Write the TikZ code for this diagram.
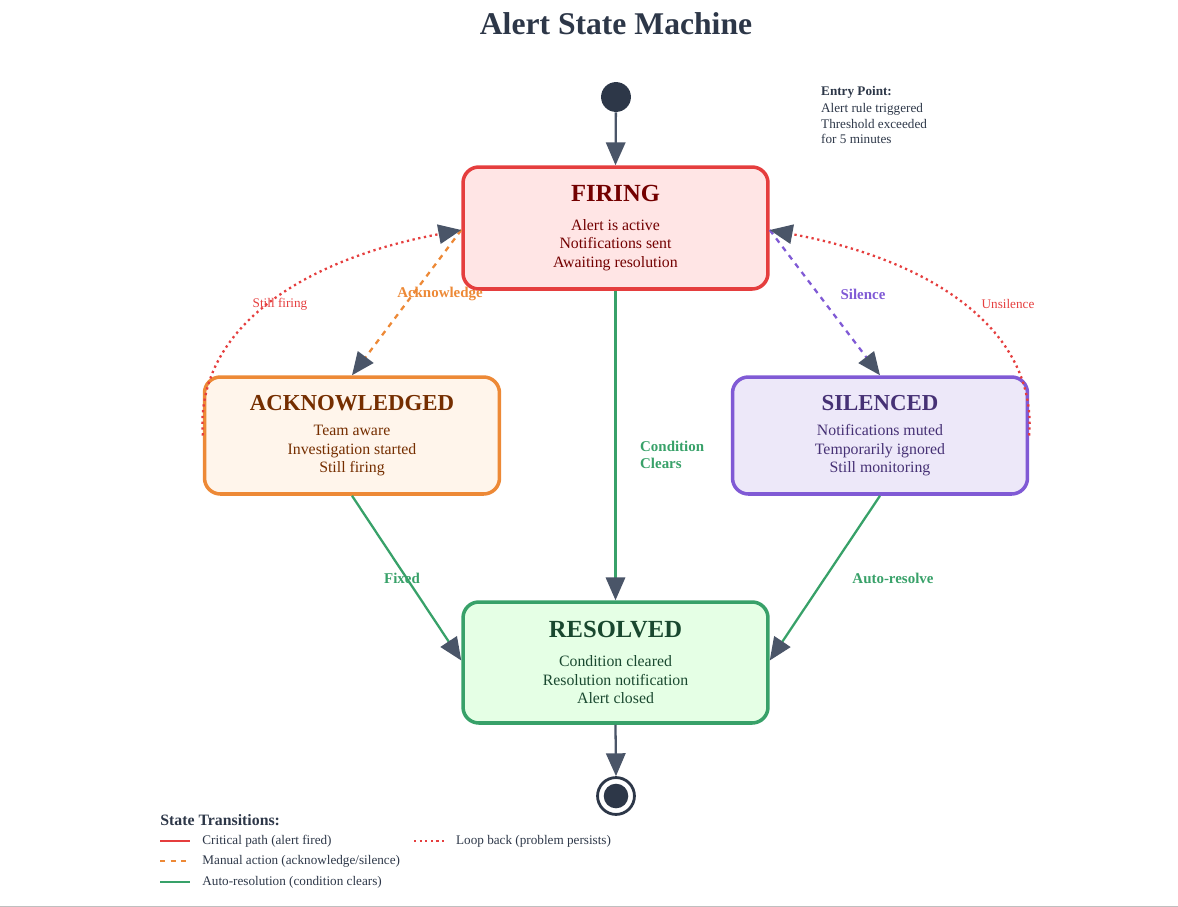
\documentclass[tikz,border=0pt]{standalone}
\usepackage{fontspec}
\setmainfont{Liberation Serif}
\usetikzlibrary{arrows.meta,positioning,calc}
\definecolor{ink}{HTML}{2D3748}
\definecolor{tipgray}{HTML}{4A5568}
\definecolor{redline}{HTML}{E53E3E}
\definecolor{orangeline}{HTML}{ED8936}
\definecolor{purpleline}{HTML}{805AD5}
\definecolor{greenline}{HTML}{38A169}
\begin{document}
\begin{tikzpicture}[x=0.02cm,y=-0.02cm,
state/.style={
draw,
line width=2pt,
rounded corners=9pt,
minimum width=5.9cm,
minimum height=2.34cm,
align=center,
font=\fontsize{9}{10.5}\selectfont},
arr/.style={line width=1.3pt,-{Triangle[length=13pt,width=11pt,color=tipgray,fill=tipgray]}},
lbl/.style={font=\fontsize{8.5}{10}\selectfont\bfseries},
small/.style={font=\fontsize{7.5}{9}\selectfont}]
\useasboundingbox (0,0) rectangle (1178,907);
\draw[gray!50] (0,906) -- (1178,906);

\node[font=\fontsize{18}{20}\selectfont\bfseries,text=ink] (title) at (616,24) {Alert State Machine};

% start and end points
\node[circle,fill=ink,minimum size=17pt,inner sep=0] (start) at (616,97) {};
\node[circle,draw=ink,line width=1.6pt,minimum size=21pt,inner sep=0] (stop) at (616,796) {};
\node[circle,fill=ink,minimum size=14pt,inner sep=0] at (stop) {};

\node[small,align=left,anchor=north west,text=ink,font=\fontsize{7.5}{8.8}\selectfont] (entry) at (815,80)
{\textbf{Entry Point:}\\[1pt]Alert rule triggered\\Threshold exceeded\\for 5 minutes};

% states
\node[state,draw=redline,fill=red!10,text=red!45!black,minimum width=6.1cm,minimum height=2.44cm] (firing) at (615.5,228)
{{\fontsize{14}{16}\selectfont\bfseries FIRING}\\[6pt]Alert is active\\Notifications sent\\Awaiting resolution};
\node[state,draw=orangeline,fill=orange!8,text=orange!40!black!90!red] (ack) at (352,435.5)
{{\fontsize{13}{15}\selectfont\bfseries ACKNOWLEDGED}\\[4pt]Team aware\\Investigation started\\Still firing};
\node[state,draw=purpleline,fill=purpleline!14,text=purpleline!55!black] (sil) at (880,435.5)
{{\fontsize{13}{15}\selectfont\bfseries SILENCED}\\[4pt]Notifications muted\\Temporarily ignored\\Still monitoring};
\node[state,draw=greenline,fill=green!10,text=greenline!45!black,minimum width=6.1cm,minimum height=2.42cm] (res) at (615.5,662.5)
{{\fontsize{14}{16}\selectfont\bfseries RESOLVED}\\[6pt]Condition cleared\\Resolution notification\\Alert closed};

% transitions
\draw[arr,draw=tipgray] (start) -- (firing.north);
\draw[arr,draw=tipgray] (res.south) -- (stop.north);
\draw[arr,draw=orangeline,dashed] ($(firing.west)+(0,2)$) -- (ack.north);
\draw[arr,draw=purpleline,dashed] ($(firing.east)+(0,2)$) -- (sil.north);
\draw[arr,draw=greenline] (firing.south) -- (res.north);
\draw[arr,draw=greenline] (ack.south) -- ($(res.west)+(0,-2)$);
\draw[arr,draw=greenline] (sil.south) -- ($(res.east)+(0,-2)$);
\draw[arr,draw=redline,dotted] (ack.west) .. controls (195,330) and (300,260) .. ($(firing.west)+(0,2)$);
\draw[arr,draw=redline,dotted] (sil.east) .. controls (1037,330) and (932,260) .. ($(firing.east)+(0,2)$);

\node[lbl,text=orangeline] (lack) at (440,294) {Acknowledge};
\node[lbl,text=purpleline] (lsil) at (863,294) {Silence};
\node[lbl,text=greenline,align=left,anchor=west] (lcond) at (634,455) {Condition\\Clears};
\node[lbl,text=greenline] (lfix) at (402,578) {Fixed};
\node[lbl,text=greenline] (lauto) at (893,578) {Auto-resolve};
\node[small,text=redline] (lstill) at (280,304) {Still firing};
\node[small,text=redline] (lunsil) at (1008,304) {Unsilence};

% legend
\node[anchor=west,font=\fontsize{9}{10}\selectfont\bfseries,text=ink,inner sep=0] (leg) at (160,820) {State Transitions:};
\draw[redline,line width=1.5pt] (160,841) -- (190,841) node[right=3pt,small,text=ink] (l1) {Critical path (alert fired)};
\draw[orangeline,line width=1.5pt,dashed] (160,861) -- (190,861) node[right=3pt,small,text=ink] (l2) {Manual action (acknowledge/silence)};
\draw[greenline,line width=1.5pt] (160,882) -- (190,882) node[right=3pt,small,text=ink] (l3) {Auto-resolution (condition clears)};
\draw[redline,line width=1.2pt,dotted] (414,841) -- (444,841) node[right=3pt,small,text=ink] (l4) {Loop back (problem persists)};
\end{tikzpicture}
\end{document}
